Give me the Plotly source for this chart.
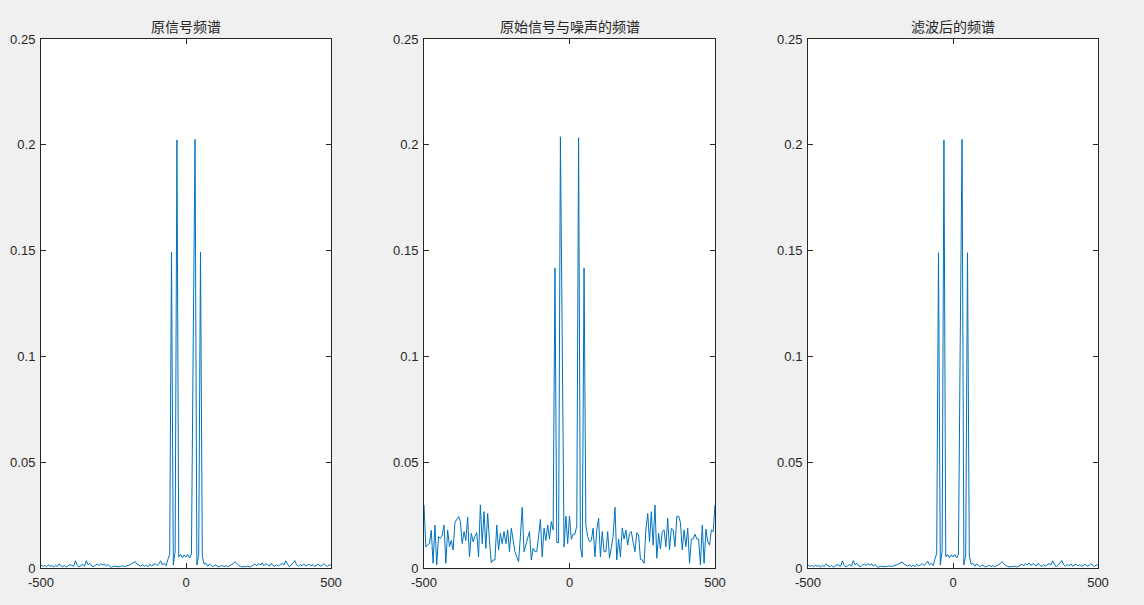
import numpy as np
import plotly.graph_objects as go

titles = ["原信号频谱", "原始信号与噪声的频谱", "滤波后的频谱"]

orig_spec = [
    0.0015, 0.0008, 0.0012, 0.0006, 0.0014, 0.0009, 0.0011, 0.0005, 0.0013, 0.0007,
    0.0020, 0.0010, 0.0006, 0.0012, 0.0004, 0.0009, 0.0016, 0.0012, 0.0008, 0.0034,
    0.0012, 0.0005, 0.0010, 0.0018, 0.0008, 0.0035, 0.0015, 0.0022, 0.0009, 0.0006,
    0.0013, 0.0019, 0.0011, 0.0021, 0.0014, 0.0020, 0.0009, 0.0017, 0.0006, 0.0004,
    0.0008, 0.0007, 0.0009, 0.0006, 0.0008, 0.0010, 0.0007, 0.0009, 0.0011, 0.0015,
    0.0020, 0.0025, 0.0030, 0.0018, 0.0012, 0.0009, 0.0015, 0.0008, 0.0013, 0.0006,
    0.0018, 0.0010, 0.0014, 0.0021, 0.0012, 0.0019, 0.0034, 0.0015, 0.0022, 0.0011,
    0.0040, 0.0065, 0.1492, 0.0014, 0.0080, 0.2023, 0.0053, 0.0065, 0.0048, 0.0062,
    0.0052, 0.0064, 0.0047, 0.0066, 0.1087, 0.2026, 0.0014, 0.0060, 0.1492, 0.0055,
    0.0018, 0.0022, 0.0008, 0.0019, 0.0012, 0.0006, 0.0015, 0.0010, 0.0005, 0.0009,
    0.0012, 0.0007, 0.0011, 0.0006, 0.0010, 0.0013, 0.0020, 0.0030, 0.0019, 0.0012,
    0.0008, 0.0005, 0.0007, 0.0006, 0.0009, 0.0005, 0.0007, 0.0012, 0.0019, 0.0010,
    0.0021, 0.0014, 0.0024, 0.0011, 0.0020, 0.0016, 0.0009, 0.0022, 0.0012, 0.0008,
    0.0015, 0.0010, 0.0016, 0.0021, 0.0014, 0.0034, 0.0018, 0.0006, 0.0013, 0.0022,
    0.0035, 0.0015, 0.0008, 0.0016, 0.0011, 0.0019, 0.0009, 0.0014, 0.0017, 0.0010,
    0.0016, 0.0008, 0.0013, 0.0018, 0.0009, 0.0012, 0.0020, 0.0011, 0.0007, 0.0015,
    0.0013,
]

noisy_spec = [
    0.0298, 0.0099, 0.0110, 0.0115, 0.0178, 0.0022, 0.0203, 0.0014, 0.0148, 0.0140,
    0.0156, 0.0203, 0.0022, 0.0180, 0.0101, 0.0130, 0.0085, 0.0214, 0.0230, 0.0243,
    0.0220, 0.0115, 0.0172, 0.0130, 0.0240, 0.0053, 0.0164, 0.0124, 0.0150, 0.0167,
    0.0053, 0.0298, 0.0115, 0.0266, 0.0093, 0.0258, 0.0130, 0.0025, 0.0038, 0.0038,
    0.0203, 0.0085, 0.0164, 0.0115, 0.0172, 0.0115, 0.0180, 0.0077, 0.0188, 0.0120,
    0.0077, 0.0053, 0.0030, 0.0150, 0.0287, 0.0077, 0.0108, 0.0140, 0.0172, 0.0038,
    0.0093, 0.0077, 0.0077, 0.0150, 0.0230, 0.0053, 0.0188, 0.0130, 0.0203, 0.0137,
    0.0219, 0.0180, 0.1418, 0.0120, 0.0120, 0.2038, 0.1205, 0.0100, 0.0245, 0.0115,
    0.0245, 0.0135, 0.0160, 0.0160, 0.0200, 0.2033, 0.0100, 0.0050, 0.1418, 0.0203,
    0.0148, 0.0124, 0.0130, 0.0188, 0.0053, 0.0180, 0.0235, 0.0053, 0.0172, 0.0077,
    0.0077, 0.0172, 0.0046, 0.0101, 0.0150, 0.0287, 0.0038, 0.0137, 0.0053, 0.0188,
    0.0137, 0.0180, 0.0108, 0.0164, 0.0172, 0.0120, 0.0077, 0.0167, 0.0156, 0.0041,
    0.0038, 0.0022, 0.0180, 0.0258, 0.0124, 0.0266, 0.0108, 0.0298, 0.0046, 0.0164,
    0.0090, 0.0172, 0.0180, 0.0101, 0.0235, 0.0085, 0.0188, 0.0180, 0.0101, 0.0243,
    0.0245, 0.0214, 0.0085, 0.0180, 0.0101, 0.0188, 0.0022, 0.0137, 0.0137, 0.0160,
    0.0137, 0.0137, 0.0014, 0.0203, 0.0022, 0.0183, 0.0124, 0.0108, 0.0180, 0.0172,
    0.0298,
]

filt_spec = [
    0.0014, 0.0008, 0.0012, 0.0006, 0.0013, 0.0009, 0.0011, 0.0005, 0.0013, 0.0007,
    0.0020, 0.0010, 0.0006, 0.0012, 0.0004, 0.0009, 0.0016, 0.0012, 0.0008, 0.0034,
    0.0012, 0.0005, 0.0010, 0.0018, 0.0008, 0.0035, 0.0015, 0.0022, 0.0009, 0.0006,
    0.0013, 0.0019, 0.0011, 0.0021, 0.0014, 0.0020, 0.0009, 0.0017, 0.0006, 0.0004,
    0.0008, 0.0007, 0.0009, 0.0006, 0.0008, 0.0010, 0.0007, 0.0009, 0.0011, 0.0015,
    0.0020, 0.0025, 0.0029, 0.0018, 0.0012, 0.0009, 0.0015, 0.0008, 0.0013, 0.0006,
    0.0018, 0.0010, 0.0014, 0.0021, 0.0012, 0.0019, 0.0033, 0.0015, 0.0022, 0.0011,
    0.0042, 0.0068, 0.1490, 0.0014, 0.0080, 0.2022, 0.0053, 0.0064, 0.0048, 0.0062,
    0.0052, 0.0064, 0.0047, 0.0066, 0.1087, 0.2025, 0.0014, 0.0062, 0.1490, 0.0056,
    0.0018, 0.0022, 0.0008, 0.0019, 0.0012, 0.0006, 0.0015, 0.0010, 0.0005, 0.0009,
    0.0012, 0.0007, 0.0011, 0.0006, 0.0010, 0.0013, 0.0020, 0.0030, 0.0019, 0.0012,
    0.0008, 0.0005, 0.0007, 0.0006, 0.0009, 0.0005, 0.0007, 0.0012, 0.0019, 0.0010,
    0.0021, 0.0014, 0.0024, 0.0011, 0.0020, 0.0016, 0.0009, 0.0022, 0.0012, 0.0008,
    0.0015, 0.0010, 0.0016, 0.0021, 0.0014, 0.0034, 0.0018, 0.0006, 0.0013, 0.0022,
    0.0035, 0.0015, 0.0008, 0.0016, 0.0011, 0.0019, 0.0009, 0.0014, 0.0017, 0.0010,
    0.0016, 0.0008, 0.0013, 0.0018, 0.0009, 0.0012, 0.0020, 0.0011, 0.0007, 0.0015,
    0.0013,
]

assert len(orig_spec) == 161, len(orig_spec)
assert len(noisy_spec) == 161, len(noisy_spec)
assert len(filt_spec) == 161, len(filt_spec)

freq = np.linspace(-500, 500, 161)

x_ticks = [-500, 0, 500]
x_tick_text = ["-500", "0", "500"]
y_ticks = [0, 0.05, 0.1, 0.15, 0.2, 0.25]
y_tick_text = ["0", "0.05", "0.1", "0.15", "0.2", "0.25"]

W, H = 1144, 605
x_doms = [(41, 331), (424, 715), (808, 1098)]
y_top, y_bot = 39, 568

fig = go.Figure()
axis_color = "#262626"
series = [orig_spec, noisy_spec, filt_spec]

for i, (ys, (x0, x1)) in enumerate(zip(series, x_doms)):
    n = "" if i == 0 else str(i + 1)
    fig.add_trace(go.Scatter(
        x=freq, y=ys, mode="lines",
        line=dict(color="#0072BD", width=1),
        xaxis="x" + n, yaxis="y" + n, showlegend=False,
        hoverinfo="x+y",
    ))
    common = dict(
        showline=True, linecolor=axis_color, linewidth=1, mirror="ticks",
        ticks="inside", ticklen=5, tickwidth=1, tickcolor=axis_color,
        showgrid=False, zeroline=False, automargin=False,
        tickfont=dict(family="Liberation Sans, Arial, sans-serif", size=13, color=axis_color),
    )
    fig.update_layout(**{
        "xaxis" + n: dict(
            domain=[x0 / W, x1 / W], range=[-500, 500],
            tickmode="array", tickvals=x_ticks, ticktext=x_tick_text,
            anchor="y" + n, ticklabelstandoff=2, **common,
        ),
        "yaxis" + n: dict(
            domain=[1 - y_bot / H, 1 - y_top / H], range=[0, 0.25],
            tickmode="array", tickvals=y_ticks, ticktext=y_tick_text,
            anchor="x" + n, ticklabelstandoff=2, **common,
        ),
    })
    fig.add_annotation(
        x=(x0 + x1) / 2 / W, y=1 - 26 / H, xref="paper", yref="paper",
        text=titles[i], showarrow=False, xanchor="center", yanchor="middle",
        font=dict(family="Noto Sans CJK SC, sans-serif", size=14, color=axis_color),
    )

fig.update_layout(
    width=W, height=H,
    margin=dict(l=0, r=0, t=0, b=0),
    paper_bgcolor="#f0f0f0", plot_bgcolor="#ffffff",
)

fig.write_html(
    "out.html",
    config={"displayModeBar": False},
    post_script="document.body.style.margin='0px';document.body.style.overflow='hidden';document.body.style.background='#f0f0f0';",
)
